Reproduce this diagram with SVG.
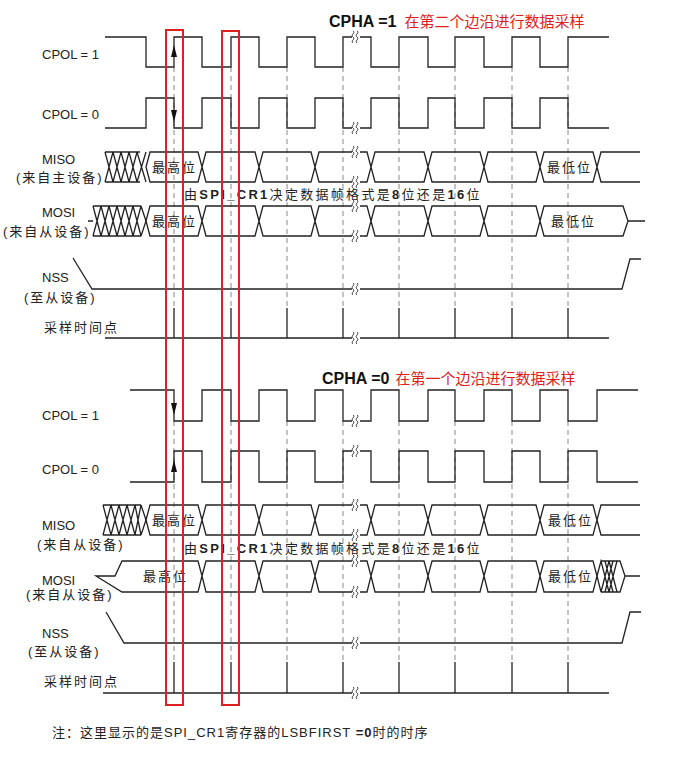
<svg xmlns="http://www.w3.org/2000/svg" xmlns:xlink="http://www.w3.org/1999/xlink" width="683" height="761" viewBox="0 0 683 761">
<style>
.w{fill:none;stroke:#222;stroke-width:1.3}
.d{fill:none;stroke:#888;stroke-width:1;stroke-dasharray:5,4}
.t{font-family:"Liberation Sans","Noto Sans CJK SC",sans-serif;font-size:13px;fill:#222}
.c{letter-spacing:2px}
.b{font-weight:bold}
.r{fill:none;stroke:#e02020;stroke-width:2}
.red{fill:#e02020;font-size:15px}
.h{font-family:"Liberation Sans","Noto Sans CJK SC",sans-serif;font-size:16px;font-weight:bold;fill:#111}
</style>
<defs>
<g id="brk"><rect x="-4" y="-6" width="8" height="12" fill="#fff"/><path d="M-3,-6 c3,2 -3,4 0,6 c3,2 -3,4 0,6 M1,-6 c3,2 -3,4 0,6 c3,2 -3,4 0,6" fill="none" stroke="#222" stroke-width="0.9"/></g>
</defs>
<rect width="683" height="761" fill="#fff"/>
<g id="labels">
<text class="t" x="42" y="59">CPOL = 1</text>
<text class="t" x="42" y="119">CPOL = 0</text>
<text class="t" x="42" y="164">MISO</text>
<text class="t c" x="16" y="182">(来自主设备)</text>
<text class="t" x="42" y="217">MOSI</text>
<text class="t c" x="3" y="236">(来自从设备)</text>
<text class="t" x="42" y="282">NSS</text>
<text class="t c" x="24" y="302">(至从设备)</text>
<text class="t c" x="44" y="332">采样时间点</text>
<text class="t" x="42" y="420">CPOL = 1</text>
<text class="t" x="42" y="474">CPOL = 0</text>
<text class="t" x="42" y="530">MISO</text>
<text class="t c" x="37" y="549">(来自从设备)</text>
<text class="t" x="42" y="585">MOSI</text>
<text class="t c" x="26" y="599">(来自从设备)</text>
<text class="t" x="42" y="638">NSS</text>
<text class="t c" x="28" y="656">(至从设备)</text>
<text class="t c" x="44" y="686">采样时间点</text>
<text class="h" x="329" y="27">CPHA =1<tspan class="red" font-weight="normal" dx="8">在第二个边沿进行数据采样</tspan></text>
<text class="h" x="322" y="384">CPHA =0<tspan class="red" font-weight="normal" dx="6">在第一个边沿进行数据采样</tspan></text>
<text class="t" x="184" y="199" font-size="14" letter-spacing="2.3">由<tspan class="b">SPI_CR1</tspan>决定数据帧格式是<tspan class="b">8</tspan>位还是<tspan class="b">16</tspan>位</text>
<text class="t" x="184" y="553" font-size="14" letter-spacing="2.3">由<tspan class="b">SPI_CR1</tspan>决定数据帧格式是<tspan class="b">8</tspan>位还是<tspan class="b">16</tspan>位</text>
<text class="t c" x="152" y="172">最高位</text>
<text class="t c" x="152" y="226">最高位</text>
<text class="t c" x="547" y="172">最低位</text>
<text class="t c" x="551" y="226">最低位</text>
<text class="t c" x="152" y="525">最高位</text>
<text class="t c" x="143" y="581">最高位</text>
<text class="t c" x="548" y="525">最低位</text>
<text class="t c" x="548" y="581">最低位</text>
<text class="t" x="52" y="737" font-size="12" letter-spacing="1">注：这里显示的是SPI_CR1寄存器的LSBFIRST <tspan class="b">=0</tspan>时的时序</text>
</g>
<g id="connectors">
<path class="d" d="M174,67V308M231,67V308M287,67V308M343,67V308M399,67V308M455,67V308M512,67V308M568,67V308"/>
<path class="d" d="M174,421V662M231,421V662M287,421V662M343,421V662M399,421V662M455,421V662M512,421V662M568,421V662"/>
</g>
<g id="top">
<path class="w" d="M105,37H146V67H174V37H202V67H231V37H259V67H287V37H315V67H343V37H371V67H399V37H428V67H455V37H484V67H512V37H540V67H568V37H609"/>
<path class="w" d="M105,128H146V98H174V128H202V98H231V128H259V98H287V128H315V98H343V128H371V98H399V128H428V98H455V128H484V98H512V128H540V98H568V128H609"/>
<polygon points="171,57 177,57 174,45" fill="#111"/>
<polygon points="171,110 177,110 174,122" fill="#111"/>
<path class="w" d="M105,152L113,182M105,182L113,152M113,152L121,182M113,182L121,152M121,152L129,182M121,182L129,152M129,152L137,182M129,182L137,152M137,152L146,182M137,182L146,152M105,152H140M105,182H140"/>
<path class="w" d="M146,167L150,152H198L202,167L198,182H150Z M202,167L206,152H255L259,167L255,182H206Z M259,167L263,152H311L315,167L311,182H263Z M315,167L319,152H367L371,167L367,182H319Z M371,167L375,152H424L428,167L424,182H375Z M428,167L432,152H480L484,167L480,182H432Z M484,167L488,152H536L540,167L536,182H488Z M540,167L544,152H593L597,167L593,182H544Z M597,167L601,152H640M597,167L601,182H640"/>
<path class="w" d="M88,221H93M93,206L101,236M93,236L101,206M101,206L109,236M101,236L109,206M109,206L117,236M109,236L117,206M117,206L125,236M117,236L125,206M125,206L133,236M125,236L133,206M133,206L141,236M133,236L141,206M141,206L146,221L141,236M93,206H141M93,236H141"/>
<path class="w" d="M146,221L150,206H198L202,221L198,236H150Z M202,221L206,206H255L259,221L255,236H206Z M259,221L263,206H311L315,221L311,236H263Z M315,221L319,206H367L371,221L367,236H319Z M371,221L375,206H424L428,221L424,236H375Z M428,221L432,206H480L484,221L480,236H432Z M484,221L488,206H536L540,221L536,236H488Z M540,221L544,206H623L628,221L623,236H544Z M628,221H645"/>
<path class="w" d="M73,258L92,289H622L630,259H641"/>
<path class="w" d="M105,338H609M174,308V338M231,308V338M287,308V338M343,308V338M399,308V338M455,308V338M512,308V338M568,308V338"/>
<use xlink:href="#brk" x="356" y="37"/><use xlink:href="#brk" x="356" y="128"/>
<use xlink:href="#brk" x="356" y="152"/><use xlink:href="#brk" x="356" y="182"/>
<use xlink:href="#brk" x="356" y="206"/><use xlink:href="#brk" x="356" y="236"/>
<use xlink:href="#brk" x="356" y="289"/><use xlink:href="#brk" x="356" y="338"/>
</g>
<g id="bottom">
<path class="w" d="M130,390H174V421H202V390H231V421H259V390H287V421H315V390H343V421H371V390H399V421H428V390H455V421H484V390H512V421H540V390H568V421H597V390H638"/>
<path class="w" d="M130,482H174V451H202V482H231V451H259V482H287V451H315V482H343V451H371V482H399V451H428V482H455V451H484V482H512V451H540V482H568V451H597V482H638"/>
<polygon points="171,403 177,403 174,415" fill="#111"/>
<polygon points="171,472 177,472 174,460" fill="#111"/>
<path class="w" d="M103,505L111,535M103,535L111,505M111,505L119,535M111,535L119,505M119,505L127,535M119,535L127,505M127,505L135,535M127,535L135,505M135,505L141,535M135,535L141,505M141,505L146,520L141,535M103,505H141M103,535H141"/>
<path class="w" d="M146,520L150,505H198L202,520L198,535H150Z M202,520L206,505H255L259,520L255,535H206Z M259,520L263,505H311L315,520L311,535H263Z M315,520L319,505H367L371,520L367,535H319Z M371,520L375,505H424L428,520L424,535H375Z M428,520L432,505H480L484,520L480,535H432Z M484,520L488,505H536L540,520L536,535H488Z M540,520L544,505H593L597,520L593,535H544Z M597,520L601,505H640M597,520L601,535H640"/>
<path class="w" d="M96,576H115L122,561H198L202,576L198,592H122Z M202,576L206,561H255L259,576L255,592H206Z M259,576L263,561H311L315,576L311,592H263Z M315,576L319,561H367L371,576L367,592H319Z M371,576L375,561H424L428,576L424,592H375Z M428,576L432,561H480L484,576L480,592H432Z M484,576L488,561H536L540,576L536,592H488Z M540,576L544,561H593L597,576L593,592H544Z"/>
<path class="w" d="M597,576L601,561L609,592M597,576L601,592L609,561M605,561L613,592M605,592L613,561M609,561L617,592M609,592L617,561M601,561H620L625,576L620,592H601M625,576H640"/>
<path class="w" d="M106,612L124,643H622L630,612H641"/>
<path class="w" d="M103,693H609M174,662V693M231,662V693M287,662V693M343,662V693M399,662V693M455,662V693M512,662V693M568,662V693"/>
<use xlink:href="#brk" x="356" y="421"/><use xlink:href="#brk" x="356" y="451"/>
<use xlink:href="#brk" x="356" y="505"/><use xlink:href="#brk" x="356" y="535"/>
<use xlink:href="#brk" x="356" y="561"/><use xlink:href="#brk" x="356" y="592"/>
<use xlink:href="#brk" x="356" y="643"/><use xlink:href="#brk" x="356" y="693"/>
</g>
<g id="highlights">
<rect class="r" x="166" y="30" width="17" height="675"/>
<rect class="r" x="222" y="31" width="17" height="674"/>
</g>
</svg>
